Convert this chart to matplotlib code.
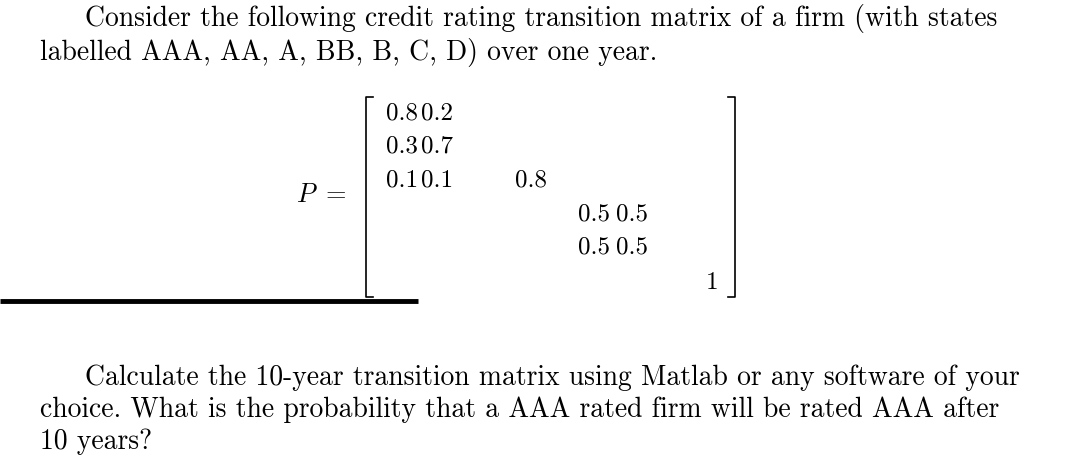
import matplotlib
matplotlib.use("Agg")
import matplotlib.pyplot as plt

rows = [["0.8", "0.2", "", "", "", ""],
        ["0.3", "0.7", "", "", "", ""],
        ["0.1", "0.1", "0.8", "", "", ""],
        ["", "", "", "0.5", "0.5", ""],
        ["", "", "", "0.5", "0.5", ""],
        ["", "", "", "", "", "1"]]
col_x = [402, 437, 531, 594, 632, 712]
row_y = [113, 146, 180, 214, 247, 283]
para1 = ["Consider the following credit rating transition matrix of a firm (with states",
         "labelled AAA, AA, A, BB, B, C, D) over one year."]
para2 = ["Calculate the 10-year transition matrix using Matlab or any software of your",
         "choice. What is the probability that a AAA rated firm will be rated AAA after",
         "10 years?"]

plt.rcParams['mathtext.fontset'] = 'cm'
fig = plt.figure(figsize=(10.74, 4.72), dpi=100)
ax = fig.add_axes([0, 0, 1, 1])
ax.set_xlim(0, 1074); ax.set_ylim(472, 0); ax.axis('off')
F = dict(family='cmr10', color='black')
FS = 19.9
ax.text(85, 18, para1[0], fontsize=FS, va='center', **F)
ax.text(40, 52, para1[1], fontsize=FS, va='center', **F)
ax.text(85, 378, para2[0], fontsize=FS, va='center', **F)
ax.text(40, 410, para2[1], fontsize=FS, va='center', **F)
ax.text(40, 442, para2[2], fontsize=FS, va='center', **F)
ax.text(296, 195, r'$P\ =$', fontsize=19, va='center', ha='left')
for r, y in zip(rows, row_y):
    for v, x in zip(r, col_x):
        if v:
            ax.text(x, y, v, fontsize=18, ha='center', va='center', **F)
ax.plot([373, 366, 366, 373], [97, 97, 297, 297], color='black', lw=1.2)
ax.plot([728, 735, 735, 728], [97, 97, 297, 297], color='black', lw=1.2)
ax.plot([0, 418], [301, 301], color='black', lw=3.5, solid_capstyle='butt')
fig.savefig('out.png', dpi=100)
